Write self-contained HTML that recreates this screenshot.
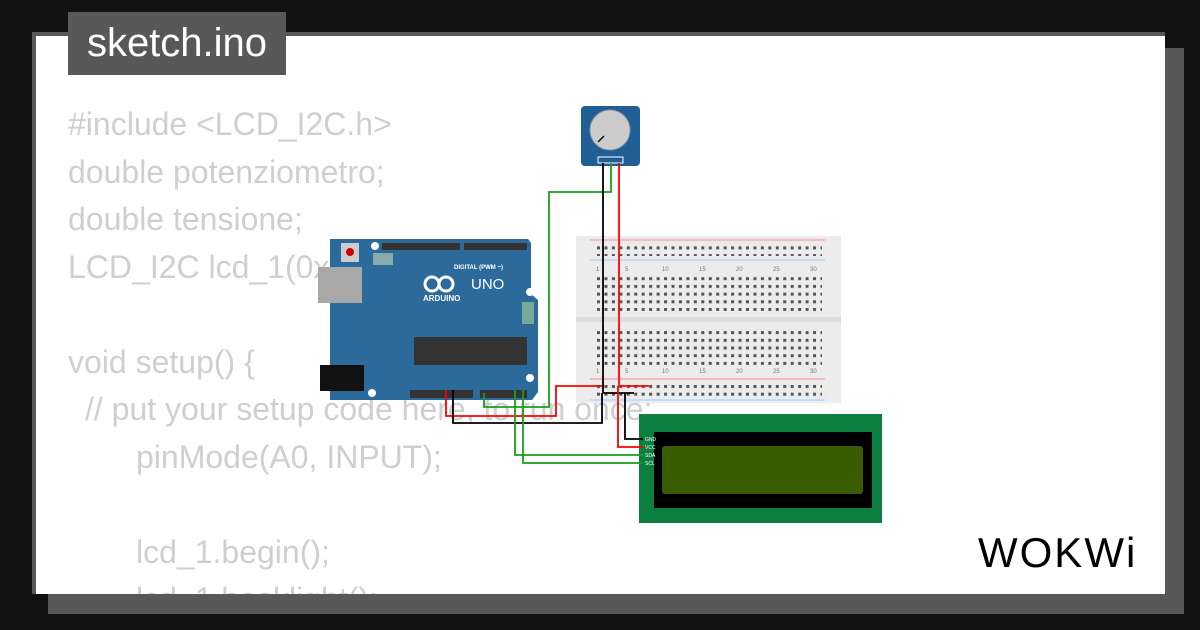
<!DOCTYPE html>
<html><head><meta charset="utf-8"><style>
html,body{margin:0;padding:0;background:#111;width:1200px;height:630px;overflow:hidden;position:relative;font-family:"Liberation Sans",sans-serif}
.shadow{position:absolute;left:48px;top:48px;width:1136px;height:566px;background:#585858}
.panel{position:absolute;left:32px;top:32px;width:1129px;height:558px;background:#fff;border:4px solid #585858;border-right:none;border-bottom:none;overflow:hidden}
.code{position:absolute;left:32px;top:65px;color:#cfcfcf;font-size:32px;line-height:47.5px;white-space:pre}
.i1{padding-left:17px}.i2{padding-left:68px}
.tab{position:absolute;left:68px;top:12px;width:218px;height:63px;background:#585858;color:#fff;font-size:40px;line-height:63px;text-align:center}
svg{position:absolute;left:0;top:0}
</style></head><body>
<div class="shadow"></div>
<div class="panel"><div class="code">#include &lt;LCD_I2C.h&gt;
double potenziometro;
double tensione;
LCD_I2C lcd_1(0x27);

void setup() {
<span class="i1">// put your setup code here, to run once:</span>
<span class="i2">pinMode(A0, INPUT);</span>

<span class="i2">lcd_1.begin();</span>
<span class="i2">lcd_1.backlight();</span></div></div>
<div class="tab">sketch.ino</div>
<svg width="1200" height="630" viewBox="0 0 1200 630">
<defs>
<pattern id="dots" x="597" y="0" width="7.45" height="7.7" patternUnits="userSpaceOnUse"><rect x="0" y="0" width="3" height="3" fill="#555"/></pattern>
</defs>
<!-- breadboard -->
<rect x="576" y="236" width="265" height="167" fill="#ececec"/>
<rect x="576" y="317" width="265" height="5" fill="#ddd"/>
<line x1="590" y1="240" x2="825" y2="240" stroke="#f88" stroke-width="1"/>
<line x1="590" y1="260" x2="825" y2="260" stroke="#9cf" stroke-width="1"/>
<line x1="590" y1="379" x2="825" y2="379" stroke="#f88" stroke-width="1"/>
<line x1="590" y1="400" x2="825" y2="400" stroke="#9cf" stroke-width="1"/>
<rect x="596" y="244" width="226" height="12" fill="url(#dots)"/>
<rect x="596" y="275" width="226" height="36" fill="url(#dots)"/>
<rect x="596" y="329" width="226" height="36" fill="url(#dots)"/>
<rect x="596" y="384" width="226" height="12" fill="url(#dots)"/>
<g font-size="6" fill="#777"><text x="596" y="271">1</text><text x="625" y="271">5</text><text x="662" y="271">10</text><text x="699" y="271">15</text><text x="736" y="271">20</text><text x="773" y="271">25</text><text x="810" y="271">30</text>
<text x="596" y="373">1</text><text x="625" y="373">5</text><text x="662" y="373">10</text><text x="699" y="373">15</text><text x="736" y="373">20</text><text x="773" y="373">25</text><text x="810" y="373">30</text></g>
<!-- arduino -->
<path d="M330 239 H528 L531 243 V294 L538 300 V392 L532 400 H330 Z" fill="#2b6a9b"/>
<rect x="318" y="267" width="44" height="36" fill="#a8a8a8"/>
<rect x="320" y="365" width="44" height="26" fill="#111"/>
<rect x="341" y="243" width="18" height="19" fill="#ccc"/><circle cx="350" cy="252" r="4" fill="#c00"/>
<rect x="382" y="243" width="78" height="7" fill="#333"/>
<rect x="464" y="243" width="63" height="7" fill="#333"/>
<rect x="410" y="390" width="63" height="8" fill="#333"/>
<rect x="480" y="390" width="47" height="8" fill="#333"/>
<rect x="414" y="337" width="113" height="28" fill="#333"/>
<circle cx="375" cy="246" r="4" fill="#fff"/><circle cx="530" cy="378" r="4" fill="#fff"/><circle cx="372" cy="393" r="4" fill="#fff"/><circle cx="530" cy="292" r="4" fill="#fff"/>
<rect x="373" y="253" width="20" height="12" fill="#8aa"/>
<rect x="522" y="302" width="12" height="22" fill="#7a9"/>
<text x="423" y="301" font-size="8" font-weight="bold" fill="#fff">ARDUINO</text>
<text x="471" y="289" font-size="15" fill="#fff">UNO</text>
<circle cx="432" cy="284" r="7" fill="none" stroke="#fff" stroke-width="3"/><circle cx="446" cy="284" r="7" fill="none" stroke="#fff" stroke-width="3"/>
<text x="454" y="269" font-size="6" font-weight="bold" fill="#fff">DIGITAL (PWM ~)</text>
<!-- pot -->
<rect x="581" y="106" width="59" height="60" rx="4" fill="#1f5f95"/>
<circle cx="610" cy="130" r="20" fill="#ccc" stroke="#999"/>
<line x1="598" y1="142" x2="604" y2="136" stroke="#111" stroke-width="1.5"/>
<rect x="598" y="157" width="25" height="6" fill="none" stroke="#fff" stroke-width="1"/>
<!-- LCD -->
<rect x="639" y="414" width="243" height="109" fill="#0b7f3f"/>
<rect x="654" y="432" width="218" height="76" fill="#000"/>
<rect x="662" y="446" width="201" height="48" rx="3" fill="#3a5c00"/>
<g font-size="5" fill="#fff"><text x="645" y="441">GND</text><text x="645" y="449">VCC</text><text x="645" y="457">SDA</text><text x="645" y="465">SCL</text></g>
<!-- wires -->
<g fill="none" stroke-width="1.8">
<path d="M611 163 V192 H549 V407 H484 V393" stroke="#18a018"/>
<path d="M619 163 V386 H649" stroke="#f00"/>
<path d="M446 390 V416 H556 V386 H604" stroke="#f00"/>
<path d="M603 163 V393 H634" stroke="#000"/>
<path d="M453 390 V423 H602 V393" stroke="#000"/>
<path d="M618 386 V447 H643" stroke="#f00"/>
<path d="M625 393 V439 H643" stroke="#000"/>
<path d="M515 390 V455 H643" stroke="#18a018"/>
<path d="M523 390 V463 H643" stroke="#18a018"/>
</g>
<text x="978" y="567" font-size="42" fill="#000" letter-spacing="2" font-family="Liberation Sans, sans-serif">WOKWi</text>
</svg>
</body></html>
